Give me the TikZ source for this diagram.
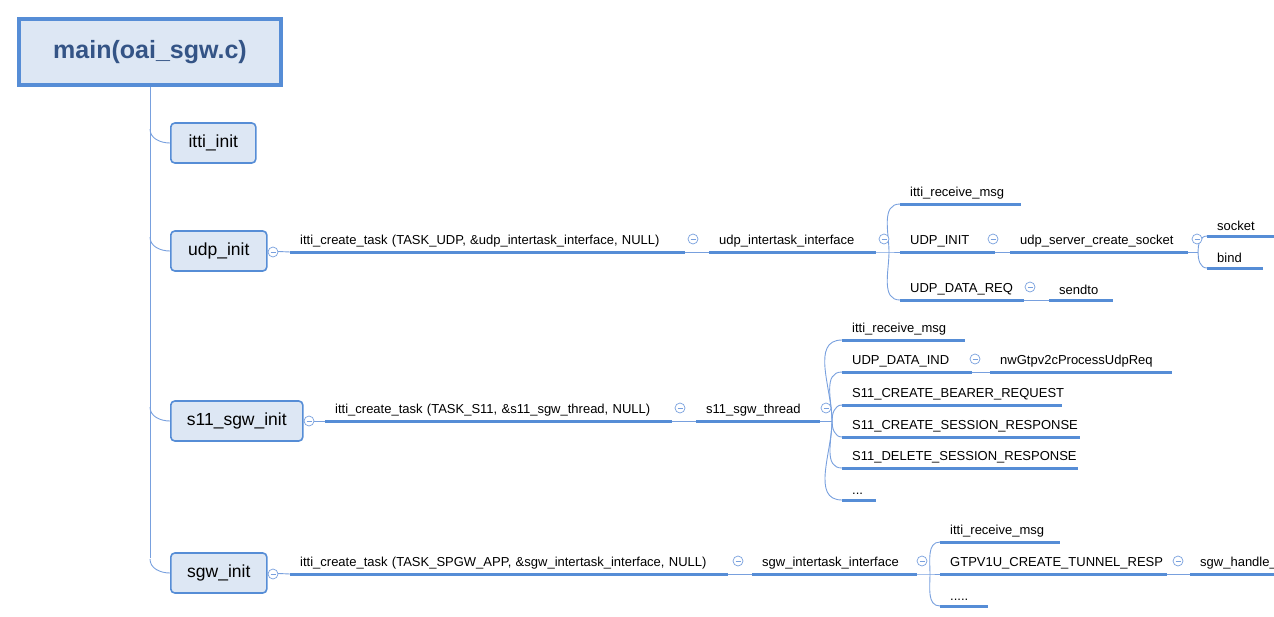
\documentclass[tikz,border=0pt]{standalone}
\usepackage{fontspec}
\setmainfont{Liberation Sans}
\usetikzlibrary{positioning}
\definecolor{mapblue}{RGB}{86,141,214}
\definecolor{thinblue}{RGB}{120,160,222}
\definecolor{boxfill}{RGB}{221,231,244}
\definecolor{titleblue}{RGB}{52,84,134}

\newcommand{\topic}[5]{%
	\pgfmathsetmacro\tw{#3-#2-20}
	\node[topic, text width=\tw pt] (#1) at (#2,#4) {\mbox{#5}};
	\draw[under] (#1.south west) -- (#1.south east);
}
\newcommand{\fold}[2]{\node[fold] at (#1,#2) {};\draw[thinblue] (#1-2.5,#2) -- (#1+2.5,#2);}

\begin{document}
\begin{tikzpicture}[x=1pt, y=-1pt, font=\fontsize{13}{15}\selectfont]

		\tikzset{
			root/.style={draw=mapblue, line width=4pt, fill=boxfill, minimum width=262pt, minimum height=66pt, font=\fontsize{25}{28}\selectfont\bfseries, text=titleblue},
			sub/.style={draw=mapblue, line width=1.6pt, fill=boxfill, rounded corners=4pt, minimum height=40pt, anchor=west, font=\fontsize{17.5}{20}\selectfont},
			topic/.style={anchor=south west, inner xsep=10pt, inner ysep=5pt, align=left},
			under/.style={mapblue, line width=3pt},
			link/.style={thinblue, line width=0.9pt},
			fold/.style={circle, draw=thinblue, fill=white, line width=0.7pt, inner sep=0pt, minimum size=10pt}
		}

		\useasboundingbox (0,0) rectangle (1274,616);

		% root and first level
		\node[root] (main) at (150,52) {main(oai\_sgw.c)};
		\node[sub, minimum width=85pt] (itti) at (170,143) {itti\_init};
		\node[sub, minimum width=96pt] (udp) at (170,251) {udp\_init};
		\node[sub, minimum width=132pt] (s11) at (170,421) {s11\_sgw\_init};
		\node[sub, minimum width=96pt] (sgw) at (170,573) {sgw\_init};

		\coordinate (trunk) at (150,558);
		\draw[link] (main.south) -- (trunk);
		\foreach \k in {itti,udp,s11,sgw}
			\draw[link] (150,0 |- \k.west) ++(0,-14) to[out=-90,in=180] (\k.west);

		% udp branch
		\topic{udpTask}{290}{685}{252}{itti\_create\_task (TASK\_UDP, \&udp\_intertask\_interface, NULL)}
		\topic{udpIf}{709}{876}{252}{udp\_intertask\_interface}
		\topic{udpRecv}{900}{1021}{204}{itti\_receive\_msg}
		\topic{udpInit}{900}{995}{252}{UDP\_INIT}
		\topic{udpReq}{900}{1024}{300}{UDP\_DATA\_REQ}
		\topic{udpSock}{1010}{1188}{252}{udp\_server\_create\_socket}
		\topic{udpSendto}{1049}{1113}{300}{sendto}
		\topic{socket}{1207}{1290}{236}{socket}
		\topic{bind}{1207}{1263}{268}{bind}
		\draw[link] (udp.east) -- (udpTask.south west);
		\draw[link] (udpTask.south east) -- (udpIf.south west);
		\coordinate (udpFork) at (889,252);
		\draw[link] (udpIf.south east) -- (udpFork) -- (udpInit.south west);
		\draw[link] (udpFork) to[out=-90,in=180] (udpReq.south west);
		\draw[link] (udpFork) to[out=90,in=180] (udpRecv.south west);
		\draw[link] (udpInit.south east) -- (udpSock.south west);
		\draw[link] (udpReq.south east) -- (udpSendto.south west);
		\coordinate (sockFork) at (1198,252);
		\draw[link] (udpSock.south east) -- (sockFork);
		\draw[link] (sockFork) to[out=90,in=180] (socket.south west);
		\draw[link] (sockFork) to[out=-90,in=180] (bind.south west);
		\fold{273}{252}
		\fold{693}{239}
		\fold{884}{239}
		\fold{993}{239}
		\fold{1030}{287}
		\fold{1197}{239}

		% s11 branch
		\topic{s11Task}{325}{672}{421}{itti\_create\_task (TASK\_S11, \&s11\_sgw\_thread, NULL)}
		\topic{s11Thread}{696}{820}{421}{s11\_sgw\_thread}
		\topic{s11Recv}{842}{965}{340}{itti\_receive\_msg}
		\topic{s11Ind}{842}{972}{372}{UDP\_DATA\_IND}
		\topic{s11Proc}{990}{1172}{372}{nwGtpv2cProcessUdpReq}
		\topic{s11Bearer}{842}{1062}{405}{S11\_CREATE\_BEARER\_REQUEST}
		\topic{s11Create}{842}{1080}{437}{S11\_CREATE\_SESSION\_RESPONSE}
		\topic{s11Delete}{842}{1078}{468}{S11\_DELETE\_SESSION\_RESPONSE}
		\topic{s11More}{842}{876}{500}{...}
		\draw[link] (s11.east) -- (s11Task.south west);
		\draw[link] (s11Task.south east) -- (s11Thread.south west);
		\coordinate (s11Fork) at (832,421);
		\draw[link] (s11Thread.south east) -- (s11Fork);
		\foreach \k in {s11Recv,s11Ind,s11Bearer}
			\draw[link] (s11Fork) to[out=90,in=180] (\k.south west);
		\foreach \k in {s11Create,s11Delete,s11More}
			\draw[link] (s11Fork) to[out=-90,in=180] (\k.south west);
		\draw[link] (s11Ind.south east) -- (s11Proc.south west);
		\fold{309}{421}
		\fold{680}{408}
		\fold{826}{408}
		\fold{975}{359}

		% sgw branch
		\topic{sgwTask}{290}{728}{574}{itti\_create\_task (TASK\_SPGW\_APP, \&sgw\_intertask\_interface, NULL)}
		\topic{sgwIf}{752}{917}{574}{sgw\_intertask\_interface}
		\topic{sgwRecv}{940}{1060}{542}{itti\_receive\_msg}
		\topic{sgwTunnel}{940}{1167}{574}{GTPV1U\_CREATE\_TUNNEL\_RESP}
		\topic{sgwMore}{940}{988}{606}{.....}
		\topic{sgwHandle}{1190}{1300}{574}{sgw\_handle\_}
		\draw[link] (sgw.east) -- (sgwTask.south west);
		\draw[link] (sgwTask.south east) -- (sgwIf.south west);
		\coordinate (sgwFork) at (930,574);
		\draw[link] (sgwIf.south east) -- (sgwFork) -- (sgwTunnel.south west);
		\draw[link] (sgwFork) to[out=90,in=180] (sgwRecv.south west);
		\draw[link] (sgwFork) to[out=-90,in=180] (sgwMore.south west);
		\draw[link] (sgwTunnel.south east) -- (sgwHandle.south west);
		\fold{273}{574}
		\fold{738}{561}
		\fold{922}{561}
		\fold{1178}{561}

\end{tikzpicture}
\end{document}
